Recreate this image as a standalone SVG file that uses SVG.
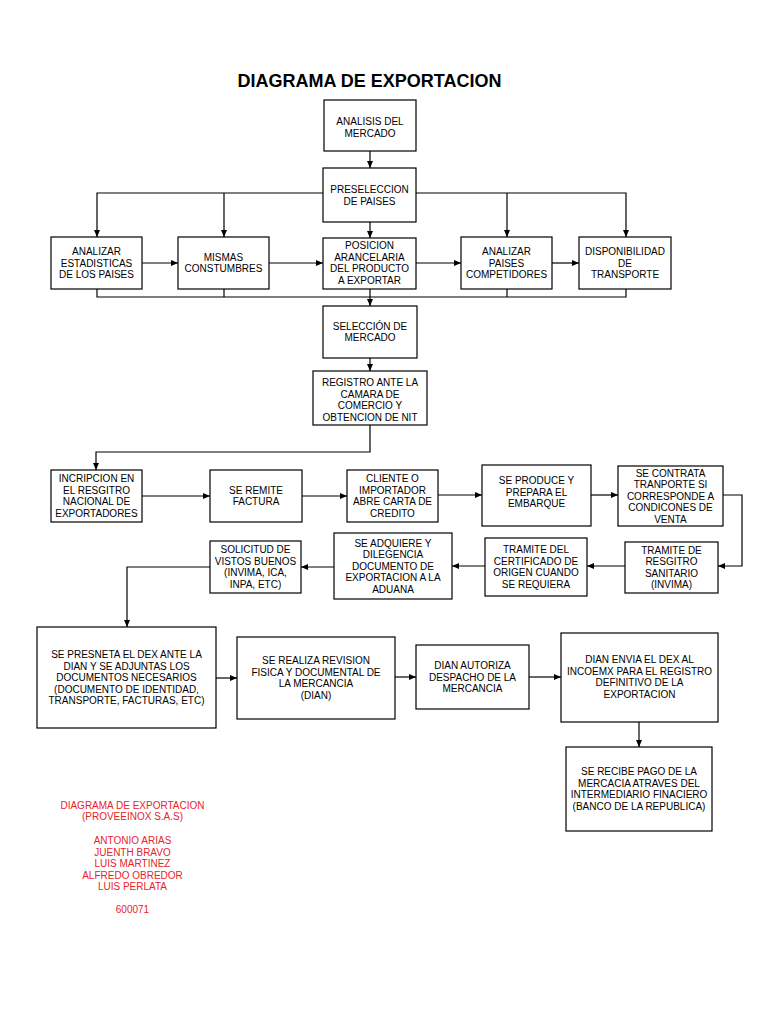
<svg xmlns="http://www.w3.org/2000/svg" width="768" height="1024" viewBox="0 0 768 1024">
<style>
.b{fill:#fff;stroke:#000;stroke-width:1.2}
.t{font-family:"Liberation Sans",Arial,Helvetica,sans-serif;font-size:10px;fill:#000;text-anchor:middle}
.c{fill:none;stroke:#000;stroke-width:1.2}
.a{marker-end:url(#ah)}
.r{font-family:"Liberation Sans",Arial,Helvetica,sans-serif;font-size:10px;fill:#e8232b;text-anchor:middle}
.h{font-family:"Liberation Sans",Arial,Helvetica,sans-serif;font-size:18px;font-weight:bold;fill:#000;text-anchor:middle}
</style>
<defs>
<marker id="ah" markerUnits="userSpaceOnUse" markerWidth="8" markerHeight="7" refX="7" refY="3" orient="auto">
<path d="M0,0 L7,3 L0,6 z" fill="#000"/>
</marker>
</defs>
<rect width="768" height="1024" fill="#fff"/>
<text class="h" x="369.5" y="87">DIAGRAMA DE EXPORTACION</text>

<g id="connectors">
<path class="c a" d="M370,151 V168"/>
<path class="c a" d="M323,193 H97 V237"/>
<path class="c a" d="M224,193 V237"/>
<path class="c a" d="M416,193 H626 V237"/>
<path class="c a" d="M507,193 V237"/>
<path class="c a" d="M370,222 V238"/>
<path class="c a" d="M142,263 H178"/>
<path class="c a" d="M269,263 H323"/>
<path class="c a" d="M416,263 H461"/>
<path class="c a" d="M552,263 H579"/>
<path class="c" d="M97,289 V297 H626 V289 M224,289 V297 M507,289 V297"/>
<path class="c a" d="M370,289 V306"/>
<path class="c a" d="M370,358 V371"/>
<path class="c a" d="M370,425 V452 H96 V470"/>
<path class="c a" d="M142,496 H210"/>
<path class="c a" d="M302,496 H347"/>
<path class="c a" d="M438,495 H482"/>
<path class="c a" d="M591,495 H618"/>
<path class="c a" d="M723,495 H742 V566 H718"/>
<path class="c a" d="M625,566 H587"/>
<path class="c a" d="M485,566 H452"/>
<path class="c a" d="M334,567 H301"/>
<path class="c a" d="M210,567 H127 V627"/>
<path class="c a" d="M216,678 H237"/>
<path class="c a" d="M395,677 H416"/>
<path class="c a" d="M529,677 H561"/>
<path class="c a" d="M639,722 V747"/>
</g>

<g id="n1"><rect class="b" x="324" y="100" width="92" height="51"/>
<text class="t" x="370" y="125.4"><tspan x="370">ANALISIS DEL</tspan><tspan x="370" dy="11.5">MERCADO</tspan></text></g>

<g id="n2"><rect class="b" x="323" y="168" width="93" height="54"/>
<text class="t" x="369.5" y="193.3"><tspan x="369.5">PRESELECCION</tspan><tspan x="369.5" dy="11.5">DE PAISES</tspan></text></g>

<g id="n3"><rect class="b" x="51" y="237" width="91" height="52"/>
<text class="t" y="255.1"><tspan x="96.5">ANALIZAR</tspan><tspan x="96.5" dy="11.5">ESTADISTICAS</tspan><tspan x="96.5" dy="11.5">DE LOS PAISES</tspan></text></g>

<g id="n4"><rect class="b" x="178" y="237" width="91" height="52"/>
<text class="t" y="260.8"><tspan x="223.5">MISMAS</tspan><tspan x="223.5" dy="11.5">CONSTUMBRES</tspan></text></g>

<g id="n5"><rect class="b" x="323" y="238" width="93" height="51"/>
<text class="t" y="249.4"><tspan x="369.5">POSICION</tspan><tspan x="369.5" dy="11.5">ARANCELARIA</tspan><tspan x="369.5" dy="11.5">DEL PRODUCTO</tspan><tspan x="369.5" dy="11.5">A EXPORTAR</tspan></text></g>

<g id="n6"><rect class="b" x="461" y="237" width="91" height="52"/>
<text class="t" y="255.1"><tspan x="506.5">ANALIZAR</tspan><tspan x="506.5" dy="11.5">PAISES</tspan><tspan x="506.5" dy="11.5">COMPETIDORES</tspan></text></g>

<g id="n7"><rect class="b" x="579" y="237" width="92" height="52"/>
<text class="t" y="255.1"><tspan x="625">DISPONIBILIDAD</tspan><tspan x="625" dy="11.5">DE</tspan><tspan x="625" dy="11.5">TRANSPORTE</tspan></text></g>

<g id="n8"><rect class="b" x="323" y="306" width="94" height="52"/>
<text class="t" y="329.8"><tspan x="370">SELECCIÓN DE</tspan><tspan x="370" dy="11.5">MERCADO</tspan></text></g>

<g id="n9"><rect class="b" x="313" y="371" width="114" height="54"/>
<text class="t" y="386.35"><tspan x="370">REGISTRO ANTE LA</tspan><tspan x="370" dy="11.5">CAMARA DE</tspan><tspan x="370" dy="11.5">COMERCIO Y</tspan><tspan x="370" dy="11.5">OBTENCION DE NIT</tspan></text></g>

<g id="n10"><rect class="b" x="51" y="470" width="91" height="52"/>
<text class="t" y="482.35"><tspan x="96.5">INCRIPCION EN</tspan><tspan x="96.5" dy="11.5">EL RESGITRO</tspan><tspan x="96.5" dy="11.5">NACIONAL DE</tspan><tspan x="96.5" dy="11.5">EXPORTADORES</tspan></text></g>

<g id="n11"><rect class="b" x="210" y="470" width="92" height="52"/>
<text class="t" y="493.8"><tspan x="256">SE REMITE</tspan><tspan x="256" dy="11.5">FACTURA</tspan></text></g>

<g id="n12"><rect class="b" x="347" y="470" width="91" height="52"/>
<text class="t" y="482.35"><tspan x="392.5">CLIENTE O</tspan><tspan x="392.5" dy="11.5">IMPORTADOR</tspan><tspan x="392.5" dy="11.5">ABRE CARTA DE</tspan><tspan x="392.5" dy="11.5">CREDITO</tspan></text></g>

<g id="n13"><rect class="b" x="482" y="465" width="109" height="61"/>
<text class="t" y="484.1"><tspan x="536.5">SE PRODUCE Y</tspan><tspan x="536.5" dy="11.5">PREPARA EL</tspan><tspan x="536.5" dy="11.5">EMBARQUE</tspan></text></g>

<g id="n14"><rect class="b" x="618" y="466" width="105" height="60"/>
<text class="t" y="476.6"><tspan x="670.5">SE CONTRATA</tspan><tspan x="670.5" dy="11.5">TRANPORTE SI</tspan><tspan x="670.5" dy="11.5">CORRESPONDE A</tspan><tspan x="670.5" dy="11.5">CONDICONES DE</tspan><tspan x="670.5" dy="11.5">VENTA</tspan></text></g>

<g id="n15"><rect class="b" x="625" y="542" width="93" height="51"/>
<text class="t" y="553.85"><tspan x="671.5">TRAMITE DE</tspan><tspan x="671.5" dy="11.5">RESGITRO</tspan><tspan x="671.5" dy="11.5">SANITARIO</tspan><tspan x="671.5" dy="11.5">(INVIMA)</tspan></text></g>

<g id="n16"><rect class="b" x="485" y="538" width="102" height="58"/>
<text class="t" y="553.35"><tspan x="536">TRAMITE DEL</tspan><tspan x="536" dy="11.5">CERTIFICADO DE</tspan><tspan x="536" dy="11.5">ORIGEN CUANDO</tspan><tspan x="536" dy="11.5">SE REQUIERA</tspan></text></g>

<g id="n17"><rect class="b" x="334" y="533" width="118" height="66"/>
<text class="t" y="546.6"><tspan x="393">SE ADQUIERE Y</tspan><tspan x="393" dy="11.5">DILEGENCIA</tspan><tspan x="393" dy="11.5">DOCUMENTO DE</tspan><tspan x="393" dy="11.5">EXPORTACION A LA</tspan><tspan x="393" dy="11.5">ADUANA</tspan></text></g>

<g id="n18"><rect class="b" x="210" y="541" width="91" height="52"/>
<text class="t" y="553.35"><tspan x="255.5">SOLICITUD DE</tspan><tspan x="255.5" dy="11.5">VISTOS BUENOS</tspan><tspan x="255.5" dy="11.5">(INVIMA, ICA,</tspan><tspan x="255.5" dy="11.5">INPA, ETC)</tspan></text></g>

<g id="n19"><rect class="b" x="37" y="627" width="179" height="101"/>
<text class="t" y="658.1"><tspan x="126.5">SE PRESNETA EL DEX ANTE LA</tspan><tspan x="126.5" dy="11.5">DIAN Y SE ADJUNTAS LOS</tspan><tspan x="126.5" dy="11.5">DOCUMENTOS NECESARIOS</tspan><tspan x="126.5" dy="11.5">(DOCUMENTO DE IDENTIDAD,</tspan><tspan x="126.5" dy="11.5">TRANSPORTE, FACTURAS, ETC)</tspan></text></g>

<g id="n20"><rect class="b" x="237" y="637" width="158" height="82"/>
<text class="t" y="664.35"><tspan x="316">SE REALIZA REVISION</tspan><tspan x="316" dy="11.5">FISICA Y DOCUMENTAL DE</tspan><tspan x="316" dy="11.5">LA MERCANCIA</tspan><tspan x="316" dy="11.5">(DIAN)</tspan></text></g>

<g id="n21"><rect class="b" x="416" y="645" width="113" height="64"/>
<text class="t" y="669.1"><tspan x="472.5">DIAN AUTORIZA</tspan><tspan x="472.5" dy="11.5">DESPACHO DE LA</tspan><tspan x="472.5" dy="11.5">MERCANCIA</tspan></text></g>

<g id="n22"><rect class="b" x="561" y="633" width="157" height="89"/>
<text class="t" y="663.1"><tspan x="639.5">DIAN ENVIA EL DEX AL</tspan><tspan x="639.5" dy="11.5">INCOEMX PARA EL REGISTRO</tspan><tspan x="639.5" dy="11.5">DEFINITIVO DE LA</tspan><tspan x="639.5" dy="11.5">EXPORTACION</tspan></text></g>

<g id="n23"><rect class="b" x="566" y="747" width="146" height="84"/>
<text class="t" y="775.35"><tspan x="639">SE RECIBE PAGO DE LA</tspan><tspan x="639" dy="11.5">MERCACIA ATRAVES DEL</tspan><tspan x="639" dy="11.5">INTERMEDIARIO FINACIERO</tspan><tspan x="639" dy="11.5">(BANCO DE LA REPUBLICA)</tspan></text></g>

<g id="credits">
<text class="r" x="132.5" y="808.5">DIAGRAMA DE EXPORTACION</text>
<text class="r" x="132.5" y="820.3">(PROVEEINOX S.A.S)</text>
<text class="r" x="132.5" y="844">ANTONIO ARIAS</text>
<text class="r" x="132.5" y="855.6">JUENTH BRAVO</text>
<text class="r" x="132.5" y="867.2">LUIS MARTINEZ</text>
<text class="r" x="132.5" y="878.8">ALFREDO OBREDOR</text>
<text class="r" x="132.5" y="890.4">LUIS PERLATA</text>
<text class="r" x="132.5" y="913">600071</text>
</g>
</svg>
